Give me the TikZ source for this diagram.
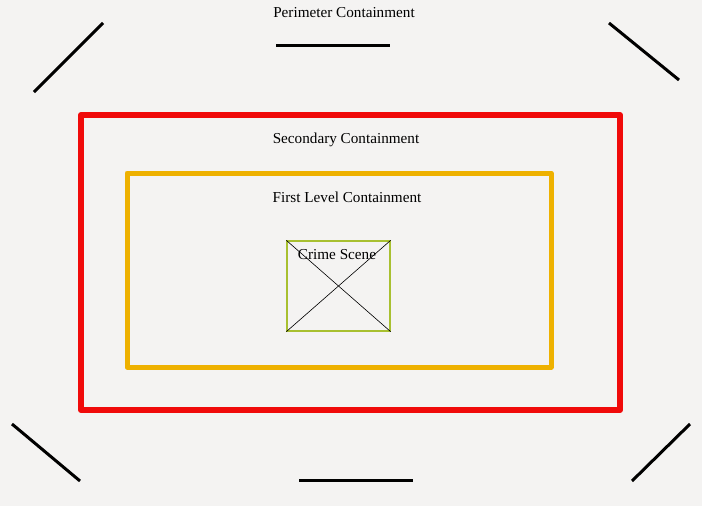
\documentclass[tikz,border=0pt]{standalone}
\usepackage{fontspec}
\setmainfont{Liberation Serif}
\definecolor{bg}{HTML}{F4F3F2}
\definecolor{redc}{HTML}{F00A0A}
\definecolor{orangec}{HTML}{EEB100}
\definecolor{scenec}{HTML}{A8C030}
\begin{document}
\begin{tikzpicture}[x=1pt,y=-1pt,
  perim/.style={line width=3pt, black},
  lbl/.style={inner sep=0pt, font=\fontsize{15.2}{17}\selectfont}]
\fill[bg] (0,0) rectangle (702,506);
\useasboundingbox (0,0) rectangle (702,506);
% perimeter line pieces
\coordinate (tl1) at (34,92); \coordinate (tl2) at (103,23);
\coordinate (tr1) at (609,23); \coordinate (tr2) at (679,80);
\coordinate (tm1) at (276,45); \coordinate (tm2) at (390,45);
\coordinate (bl1) at (12,424); \coordinate (bl2) at (80,481);
\coordinate (br1) at (632,481); \coordinate (br2) at (690,424);
\coordinate (bm1) at (299,480); \coordinate (bm2) at (413,480);
\draw[perim] (tl1) -- (tl2);
\draw[perim] (tr1) -- (tr2);
\draw[perim] (tm1) -- (tm2);
\draw[perim] (bl1) -- (bl2);
\draw[perim] (br1) -- (br2);
\draw[perim] (bm1) -- (bm2);
% containment boxes
\draw[redc, line width=6pt, line join=round] (81,115) rectangle (620,410);
\draw[orangec, line width=5pt, line join=round] (127,173) rectangle (551,367);
% crime scene
\node[draw=scenec, line width=1.3pt, minimum width=103pt, minimum height=90pt, inner sep=0pt] (scene) at (338.5,286) {};
\draw[black, line width=0.6pt] (scene.north west) -- (scene.south east);
\draw[black, line width=0.6pt] (scene.north east) -- (scene.south west);
% labels
\node[lbl] (perimlbl) at (344,13) {Perimeter Containment};
\node[lbl] (seclbl) at (346,140) {Secondary Containment};
\node[lbl] (firstlbl) at (347,197) {First Level Containment};
\node[lbl] (scenelbl) at (337,255) {Crime Scene};
\end{tikzpicture}
\end{document}
